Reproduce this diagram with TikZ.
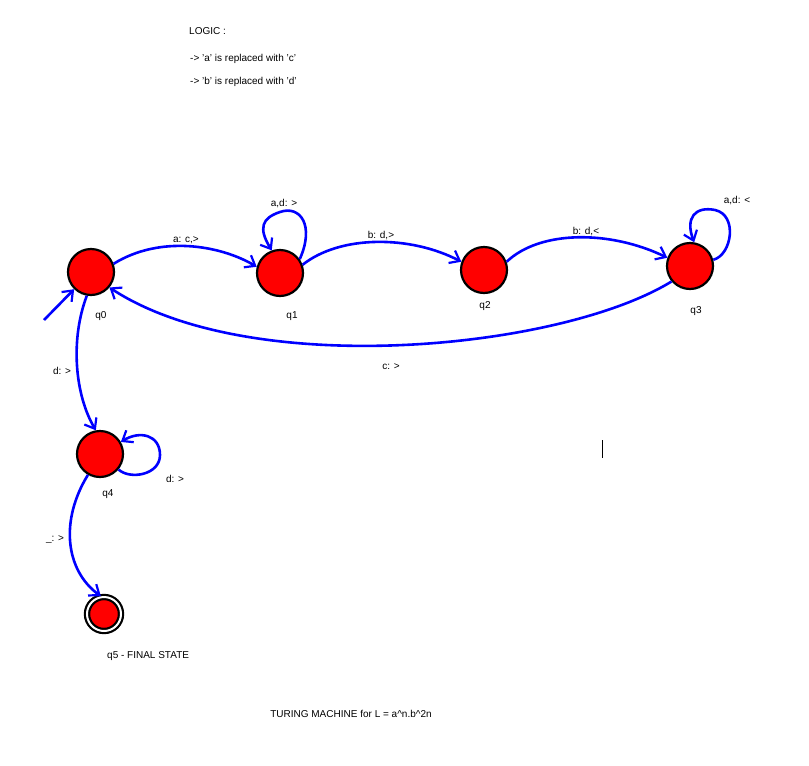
\documentclass[tikz,border=0pt]{standalone}
\usepackage{fontspec}
\setmainfont{Liberation Sans}
\usetikzlibrary{arrows.meta}
\begin{document}
\begin{tikzpicture}[x=1pt,y=-1pt,
  st/.style={circle,draw=black,line width=2.2pt,fill=red,minimum size=46pt,inner sep=0pt},
  fin/.style={circle,draw=black,line width=2.2pt,fill=red,minimum size=34pt,inner sep=0pt,double=white,double distance=2pt},
  tr/.style={draw=blue,line width=2.6pt,-{Straight Barb[length=9pt,width=14pt,line width=2.2pt]}},
  lb/.style={font=\fontsize{10}{12}\selectfont,inner sep=1pt}]
\useasboundingbox (0,0) rectangle (809,766);
\node[st] (q0) at (91,272) {};
\node[st] (q1) at (280,273) {};
\node[st] (q2) at (484,270) {};
\node[st] (q3) at (690,266) {};
\node[st] (q4) at (100,454) {};
\node[fin] (q5) at (104,614) {};
\node[lb] (l0) at (101,316) {q0};
\node[lb] (l1) at (292,316) {q1};
\node[lb] (l2) at (485,306) {q2};
\node[lb] (l3) at (696,311) {q3};
\node[lb] (l4) at (108,494) {q4};
\node[lb,anchor=west] (l5) at (106,656) {q5 - FINAL STATE};
\coordinate (s) at (44,320);
\draw[tr] (s) -- (q0);
\draw[tr] (q0.20) .. controls (160,235) and (220,245) .. (q1.165);
\node[lb] at (186,240) {a: c,>};
\draw[tr] (q1.35) .. controls (315,225) and (300,205) .. (280,212) .. controls (262,218) and (258,228) .. (q1.110);
\node[lb] at (284,204) {a,d: >};
\draw[tr] (q1.20) .. controls (340,235) and (410,235) .. (q2.160);
\node[lb] at (381,236) {b: d,>};
\draw[tr] (q2.20) .. controls (540,230) and (610,230) .. (q3.160);
\node[lb] at (586,232) {b: d,<};
\draw[tr] (q3.15) .. controls (732,255) and (738,215) .. (715,210) .. controls (695,206) and (685,218) .. (q3.80);
\node[lb] at (737,201) {a,d: <};
\draw[tr] (q3.220) .. controls (560,350) and (250,380) .. (q0.-40);
\node[lb] at (391,367) {c: >};
\draw[tr] (q0.-100) .. controls (70,340) and (75,395) .. (q4.100);
\node[lb] at (62,371) {d: >};
\draw[tr] (q4.-40) .. controls (130,480) and (160,475) .. (160,455) .. controls (160,435) and (140,430) .. (q4.30);
\node[lb] at (175,479) {d: >};
\draw[tr] (q4.-120) .. controls (60,520) and (65,570) .. (q5.100);
\node[lb] at (55,540) {\_: >};
\draw[black,line width=0.8pt] (602,440) -- (602,458);
\node[lb,anchor=west] at (188,31) {LOGIC :};
\node[lb,anchor=west] at (189,59) {-> 'a' is replaced with 'c'};
\node[lb,anchor=west] at (189,82) {-> 'b' is replaced with 'd'};
\node[lb] at (351,714) {TURING MACHINE for L = a\textasciicircum n.b\textasciicircum 2n};
\end{tikzpicture}
\end{document}
